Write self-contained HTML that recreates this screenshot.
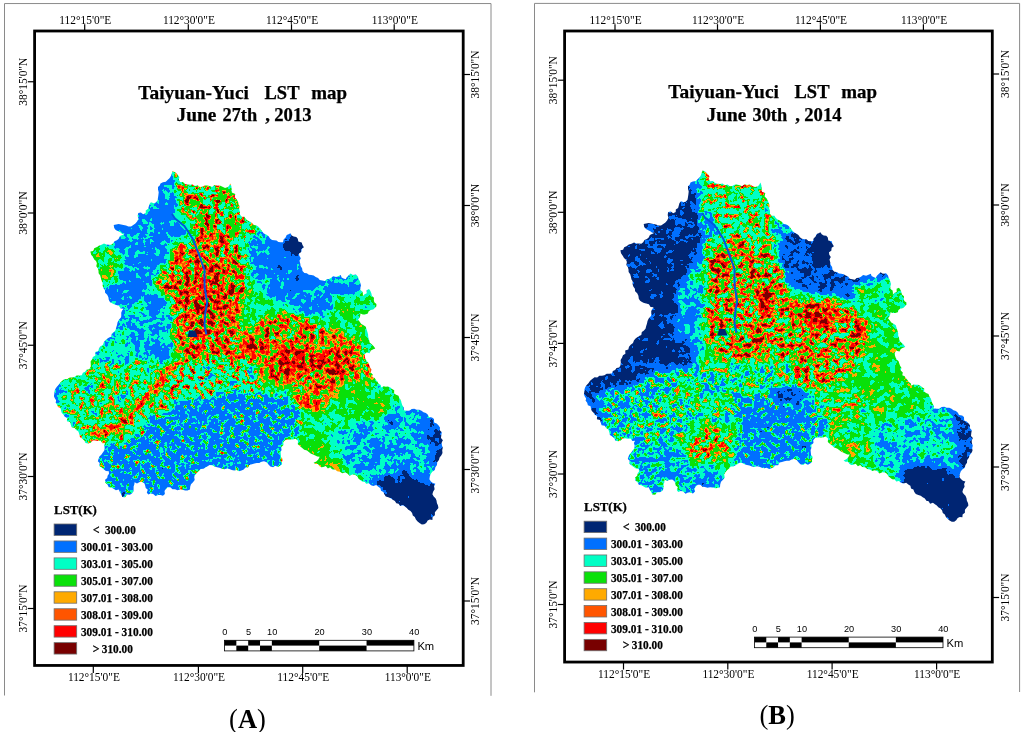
<!DOCTYPE html>
<html><head><meta charset="utf-8"><title>Taiyuan-Yuci LST map</title>
<style>html,body{margin:0;padding:0;background:#fff}svg{display:block}</style></head>
<body>
<svg width="1024" height="732" viewBox="0 0 1024 732">
<defs>
<clipPath id="sil"><polygon points="172.7,171.1 175.5,172.5 177.7,174.7 179.4,176.9 178.9,179.8 180.1,182.1 182.9,181.9 185.0,183.9 187.5,184.6 190.0,184.7 192.6,184.4 194.9,186.1 197.6,185.3 199.8,187.0 202.2,186.7 204.6,185.5 207.1,185.4 209.6,186.1 212.1,187.0 214.5,185.0 217.0,185.8 219.8,185.4 222.5,186.7 225.1,187.9 228.0,187.0 229.4,185.3 230.5,183.4 231.4,186.4 231.7,189.5 231.8,192.5 235.3,193.9 234.6,197.3 236.7,199.3 237.8,201.6 238.8,204.0 239.5,206.5 239.1,209.2 240.0,211.8 240.0,214.6 241.5,216.7 244.4,216.7 245.8,218.9 247.6,220.4 249.8,221.5 252.1,222.9 253.8,224.9 256.7,225.5 258.7,227.1 260.5,229.1 262.1,231.3 263.8,233.4 266.2,234.6 268.4,236.1 269.9,238.3 272.0,239.9 274.2,240.3 276.5,240.4 278.4,242.1 280.7,242.3 283.0,242.3 283.6,239.6 285.6,237.5 286.7,235.0 288.6,234.2 290.4,233.3 291.7,235.4 293.7,236.5 296.3,236.9 297.8,238.7 298.3,241.6 301.7,242.4 302.5,245.0 303.9,247.3 301.7,248.9 301.3,251.9 299.0,253.4 299.3,255.8 300.8,258.2 299.5,260.8 300.2,263.2 300.6,265.9 302.1,268.2 302.5,271.0 304.4,273.1 306.8,273.2 308.9,274.8 311.3,275.1 313.7,275.5 315.7,276.9 318.1,277.9 319.7,280.0 322.3,280.5 324.8,281.0 326.6,279.2 328.9,279.0 331.0,278.0 333.1,276.2 336.1,277.0 338.5,276.1 340.8,275.0 341.6,277.4 343.5,278.4 345.7,279.2 346.9,277.0 348.7,275.3 350.6,273.6 352.9,275.1 356.0,274.6 358.0,276.8 358.6,279.0 359.8,281.0 360.4,283.2 361.0,285.4 360.4,287.8 360.4,290.1 362.6,291.8 362.9,294.1 362.9,296.4 364.2,294.4 366.7,293.3 366.6,290.2 369.0,289.0 370.4,291.1 371.4,293.4 371.9,296.0 374.0,297.7 373.8,300.1 374.3,302.3 376.4,304.0 376.4,306.3 374.8,307.9 373.2,309.5 370.6,309.9 368.7,311.2 367.8,313.6 365.3,314.5 362.9,314.4 360.4,313.6 360.2,315.9 359.4,318.0 358.0,319.8 359.7,321.7 361.3,323.9 363.6,325.3 365.8,326.8 366.6,329.6 367.4,332.0 368.1,334.4 368.2,337.0 369.0,339.4 369.6,342.4 371.7,344.3 373.7,346.3 375.3,348.6 373.0,349.5 370.8,350.6 369.5,353.2 366.3,352.5 364.7,354.6 364.9,357.0 365.6,359.2 366.7,361.2 368.6,362.9 369.2,365.1 370.1,367.4 371.4,369.6 370.7,372.4 372.8,374.4 372.3,377.1 374.7,378.1 375.9,380.1 377.5,381.8 378.6,383.8 380.7,385.1 381.3,387.6 383.6,386.3 385.8,386.7 388.1,386.6 390.3,387.6 392.1,389.1 394.2,390.3 394.1,393.5 396.1,394.8 398.5,395.8 399.3,398.1 400.8,400.3 401.5,402.8 402.3,405.2 403.8,407.4 403.8,410.2 406.6,410.7 409.2,410.7 411.7,409.0 414.3,408.7 416.6,409.7 419.3,409.7 421.5,410.8 423.5,412.3 425.9,413.1 427.9,414.7 429.0,417.1 432.0,417.6 434.0,419.1 434.1,422.5 436.6,423.5 438.4,425.2 440.0,427.4 439.8,430.2 441.8,432.3 441.3,435.2 441.0,438.1 442.9,440.2 441.7,442.6 441.9,445.2 442.8,447.8 442.2,450.3 442.5,452.9 441.4,455.3 439.6,457.4 438.9,460.1 437.2,462.2 437.0,465.1 435.4,467.3 434.8,470.0 432.3,471.7 430.7,473.9 429.8,476.5 429.4,479.3 430.9,481.4 432.9,483.0 435.4,483.8 434.1,486.3 434.6,489.2 433.1,491.7 432.4,494.3 433.7,496.4 435.5,498.3 436.5,500.6 436.9,503.1 438.0,505.4 438.4,507.9 436.8,510.1 434.9,512.2 434.9,515.2 432.6,517.0 432.4,519.9 429.8,519.6 427.7,520.6 426.2,522.9 424.2,524.2 421.8,524.4 419.5,523.1 417.6,521.4 415.9,519.5 414.8,517.0 412.8,515.4 412.1,512.9 410.5,511.1 408.3,509.8 406.8,507.9 404.9,506.6 402.9,505.3 400.1,506.1 398.6,503.8 396.3,503.3 394.9,500.9 392.7,499.7 390.7,498.3 388.3,497.3 385.8,496.5 384.3,494.3 383.4,492.0 381.0,490.8 380.4,488.2 378.3,486.8 376.2,485.0 373.4,485.9 371.0,485.2 368.9,483.3 366.2,483.8 364.8,481.9 362.1,481.5 360.2,480.0 358.4,478.5 357.2,476.3 354.9,474.8 352.4,474.5 349.5,475.7 347.4,473.5 344.9,472.6 342.2,473.3 340.0,471.7 337.2,471.2 335.1,469.6 332.2,469.4 330.2,467.3 327.9,468.6 325.7,466.1 323.4,466.9 321.2,467.3 319.3,466.1 318.0,464.1 315.4,464.1 313.6,462.8 316.3,461.5 318.3,459.4 319.7,456.8 317.3,456.6 315.2,455.6 313.1,454.6 311.0,453.8 309.1,452.3 307.0,450.6 304.2,449.8 302.2,447.9 300.1,446.2 297.8,444.2 298.0,440.7 295.6,438.7 293.0,439.5 290.4,439.6 287.7,439.6 285.1,440.2 283.2,442.3 283.5,445.1 281.4,447.1 281.5,449.9 280.6,452.3 280.8,454.7 281.1,457.1 282.7,459.3 282.0,461.9 282.1,464.3 280.1,465.8 278.0,467.0 275.1,465.8 273.1,467.3 270.4,466.5 268.5,464.4 266.6,462.3 264.0,461.3 261.6,461.8 259.3,462.9 256.8,463.1 254.4,463.6 252.0,464.3 249.5,464.8 248.2,467.5 245.5,467.6 243.7,469.5 241.5,470.6 239.1,471.2 236.7,470.1 234.2,470.5 231.8,470.0 229.4,469.1 227.0,468.4 224.3,469.2 221.9,468.7 219.5,467.7 217.0,467.2 214.5,466.4 212.2,465.3 209.6,465.0 207.6,466.3 205.5,467.4 203.5,468.7 200.8,468.9 199.1,470.7 197.3,472.4 195.4,474.5 194.2,476.9 194.7,480.0 193.0,482.2 191.0,484.2 190.2,486.8 190.0,489.6 187.5,490.5 185.1,490.6 182.6,489.8 180.1,489.6 177.4,490.2 175.1,489.3 172.5,489.2 170.3,487.2 167.8,487.2 165.9,489.0 164.5,491.0 164.9,494.1 162.9,495.8 160.5,495.0 158.0,495.0 155.5,496.1 153.2,493.9 150.8,493.5 148.2,494.5 146.8,492.5 147.8,489.7 145.7,488.0 145.2,485.7 144.5,483.5 142.2,481.9 139.7,482.0 137.0,483.4 134.6,482.2 134.3,484.5 133.6,486.6 133.6,488.9 133.5,491.2 132.2,493.3 129.9,494.7 127.0,494.6 125.2,497.2 122.3,497.0 121.2,494.5 119.8,492.1 118.7,489.6 115.9,490.2 113.6,488.8 111.4,487.5 108.8,487.2 107.6,484.7 105.3,482.8 105.1,479.8 107.2,478.1 107.6,475.8 109.0,473.8 108.8,471.2 105.9,470.9 103.7,469.3 101.5,467.5 99.2,466.0 99.7,463.0 97.8,461.3 98.5,458.9 99.4,456.5 101.3,454.7 102.7,452.7 104.3,450.5 104.7,448.0 103.9,445.2 105.1,442.9 102.4,443.2 100.5,440.6 97.8,440.9 95.3,440.5 92.7,440.6 90.7,442.7 88.2,443.4 85.5,442.9 84.3,440.5 82.2,438.7 79.9,437.1 79.3,434.3 78.4,431.6 76.1,430.1 74.7,427.9 71.6,427.2 70.7,424.5 70.0,422.0 66.9,421.2 67.1,418.0 64.8,416.7 63.4,414.6 61.8,412.9 61.0,410.6 60.6,408.1 57.9,407.1 57.2,404.8 55.7,402.8 56.1,400.3 54.8,398.3 53.9,396.2 54.3,393.7 54.5,391.2 55.3,388.9 56.7,386.9 58.4,385.1 60.1,382.7 62.2,380.7 64.6,379.0 67.2,379.2 69.4,377.5 72.0,377.5 74.4,377.0 76.7,375.6 79.2,375.5 81.8,375.3 82.9,372.8 85.1,371.7 86.5,369.8 89.2,369.2 90.5,366.9 90.8,364.3 90.6,361.6 92.1,359.3 92.9,356.9 95.4,355.5 95.2,352.1 98.3,351.1 99.0,348.3 100.7,346.3 103.0,344.7 103.9,342.1 105.3,340.3 107.2,338.8 109.1,337.5 111.3,336.5 111.8,333.6 113.7,332.3 115.5,330.2 116.2,327.6 117.0,325.1 117.5,322.4 118.7,320.0 121.1,317.3 121.3,315.0 121.2,312.7 122.1,310.6 123.6,308.7 120.6,308.5 118.9,305.7 116.2,305.0 114.0,304.3 112.0,303.3 110.1,302.2 108.8,300.1 108.4,297.2 107.2,294.7 105.1,292.7 104.9,290.1 103.3,287.9 102.6,285.5 102.7,282.9 101.4,280.6 100.9,278.0 100.2,275.5 98.6,273.3 98.5,270.7 97.8,268.2 96.3,266.2 96.9,263.3 96.0,261.0 94.0,259.3 92.9,257.1 91.0,254.5 90.4,251.4 93.1,251.0 94.2,248.3 96.5,247.3 98.8,245.7 101.5,244.8 104.0,243.5 106.4,244.5 108.8,244.7 111.3,244.8 113.2,243.3 114.5,241.2 116.9,240.2 118.7,238.7 119.9,236.0 122.4,234.9 124.8,233.7 122.2,233.9 120.3,232.3 118.2,231.3 115.7,229.9 114.2,227.9 113.7,225.1 116.1,224.4 118.6,223.9 121.1,224.4 123.5,225.1 126.0,225.5 128.4,226.5 131.0,226.4 133.3,225.1 135.4,223.6 137.1,221.5 138.5,218.8 137.6,215.7 138.3,212.9 140.8,212.4 143.2,214.2 145.7,212.9 145.8,210.4 148.1,208.8 148.8,206.5 149.4,204.2 150.9,202.2 153.8,203.2 155.9,202.4 157.5,200.6 158.0,197.8 158.4,195.1 158.7,192.3 158.0,189.5 158.0,187.1 159.7,185.5 160.5,183.4 162.9,182.2 165.8,181.7 167.8,179.7 169.7,177.9 171.0,175.8 171.7,173.4"/></clipPath>
<filter id="fA" x="40" y="160" width="420" height="380" filterUnits="userSpaceOnUse" color-interpolation-filters="sRGB">
<feGaussianBlur in="SourceGraphic" stdDeviation="3.5" result="S"/>
<feColorMatrix in="S" type="matrix" values="1 0 0 0 0 1 0 0 0 0 1 0 0 0 0 0 0 0 0 1" result="fR"/>
<feColorMatrix in="S" type="matrix" values="0 1 0 0 0 0 1 0 0 0 0 1 0 0 0 0 0 0 0 1" result="fG"/>
<feColorMatrix in="S" type="matrix" values="0 0 1 0 0 0 0 1 0 0 0 0 1 0 0 0 0 0 0 1" result="fB"/>
<feTurbulence type="fractalNoise" baseFrequency="0.2" numOctaves="2" seed="3" result="n1"/>
<feColorMatrix in="n1" type="matrix" values="1 0 0 0 0 1 0 0 0 0 1 0 0 0 0 0 0 0 0 1" result="g1"/>
<feComposite in="g1" in2="fB" operator="arithmetic" k1="0" k2="2.6" k3="2" k4="-1.8" result="ng"/>
<feComposite in="fG" in2="ng" operator="arithmetic" k1="1" k2="0" k3="0" k4="0" result="t"/>
<feComposite in="fR" in2="t" operator="arithmetic" k1="0" k2="1" k3="1" k4="0" result="m0"/>
<feTurbulence type="fractalNoise" baseFrequency="0.07" numOctaves="2" seed="8" result="n2"/>
<feColorMatrix in="n2" type="matrix" values="0 1 0 0 0 0 1 0 0 0 0 1 0 0 0 0 0 0 0 1" result="g2"/>
<feComposite in="m0" in2="g2" operator="arithmetic" k1="0" k2="1" k3="0.32" k4="-0.16" result="m"/>
<feComponentTransfer in="m">
<feFuncR type="discrete" tableValues="0 0 0 0 0 0 0 0 0 0 0 0 0 0 0.0392 0.0392 0.0392 0.0392 1 1 1 1 1 1 1 1 0.471 0.471 0.471 0.471 0.471 0.471"/>
<feFuncG type="discrete" tableValues="0.149 0.149 0.149 0.149 0.439 0.439 0.439 0.439 0.439 0.439 1 1 1 1 0.882 0.882 0.882 0.882 0.667 0.667 0.333 0.333 0 0 0 0 0 0 0 0 0 0"/>
<feFuncB type="discrete" tableValues="0.451 0.451 0.451 0.451 1 1 1 1 1 1 0.773 0.773 0.773 0.773 0.0392 0.0392 0.0392 0.0392 0 0 0 0 0 0 0 0 0 0 0 0 0 0"/>
</feComponentTransfer>
</filter>
<filter id="fB" x="40" y="160" width="420" height="380" filterUnits="userSpaceOnUse" color-interpolation-filters="sRGB">
<feGaussianBlur in="SourceGraphic" stdDeviation="3.5" result="S"/>
<feColorMatrix in="S" type="matrix" values="1 0 0 0 0 1 0 0 0 0 1 0 0 0 0 0 0 0 0 1" result="fR"/>
<feColorMatrix in="S" type="matrix" values="0 1 0 0 0 0 1 0 0 0 0 1 0 0 0 0 0 0 0 1" result="fG"/>
<feColorMatrix in="S" type="matrix" values="0 0 1 0 0 0 0 1 0 0 0 0 1 0 0 0 0 0 0 1" result="fB"/>
<feTurbulence type="fractalNoise" baseFrequency="0.2" numOctaves="2" seed="11" result="n1"/>
<feColorMatrix in="n1" type="matrix" values="1 0 0 0 0 1 0 0 0 0 1 0 0 0 0 0 0 0 0 1" result="g1"/>
<feComposite in="g1" in2="fB" operator="arithmetic" k1="0" k2="2.6" k3="2" k4="-1.8" result="ng"/>
<feComposite in="fG" in2="ng" operator="arithmetic" k1="1" k2="0" k3="0" k4="0" result="t"/>
<feComposite in="fR" in2="t" operator="arithmetic" k1="0" k2="1" k3="1" k4="0" result="m0"/>
<feTurbulence type="fractalNoise" baseFrequency="0.07" numOctaves="2" seed="16" result="n2"/>
<feColorMatrix in="n2" type="matrix" values="0 1 0 0 0 0 1 0 0 0 0 1 0 0 0 0 0 0 0 1" result="g2"/>
<feComposite in="m0" in2="g2" operator="arithmetic" k1="0" k2="1" k3="0.32" k4="-0.16" result="m"/>
<feComponentTransfer in="m">
<feFuncR type="discrete" tableValues="0 0 0 0 0 0 0 0 0 0 0 0 0 0 0.0392 0.0392 0.0392 0.0392 1 1 1 1 1 1 1 1 0.471 0.471 0.471 0.471 0.471 0.471"/>
<feFuncG type="discrete" tableValues="0.149 0.149 0.149 0.149 0.439 0.439 0.439 0.439 0.439 0.439 1 1 1 1 0.882 0.882 0.882 0.882 0.667 0.667 0.333 0.333 0 0 0 0 0 0 0 0 0 0"/>
<feFuncB type="discrete" tableValues="0.451 0.451 0.451 0.451 1 1 1 1 1 1 0.773 0.773 0.773 0.773 0.0392 0.0392 0.0392 0.0392 0 0 0 0 0 0 0 0 0 0 0 0 0 0"/>
</feComponentTransfer>
</filter>
</defs>
<rect width="1024" height="732" fill="#fff"/>
<path d="M4.5 695.5V3.55H491V695.8" fill="none" stroke="#8a8a8a" stroke-width="1"/>
<g transform="translate(0 0)"><g clip-path="url(#sil)"><g filter="url(#fA)"><rect x="40" y="160" width="420" height="380" fill="#5e2480"/><polygon points="150.0,165.0 171.0,172.0 175.0,195.0 176.0,212.0 184.0,230.0 188.0,243.0 182.0,252.0 170.0,263.0 156.0,276.0 150.0,290.0 140.0,300.0 125.0,312.0 105.0,315.0 85.0,295.0 80.0,268.0 70.0,240.0 100.0,215.0 130.0,200.0 140.0,180.0" fill="#362b5e"/>
<ellipse cx="140" cy="250" rx="18" ry="20" fill="#382b6b"/>
<polygon points="75.0,240.0 112.0,243.0 122.0,262.0 118.0,282.0 95.0,290.0 80.0,270.0" fill="#613380"/>
<ellipse cx="176" cy="225" rx="5" ry="22" fill="#331a59" transform="rotate(-15 176 225)"/>
<ellipse cx="161" cy="186" rx="5" ry="8" fill="#1a1f66"/>
<polygon points="123.0,312.0 150.0,292.0 172.0,300.0 176.0,330.0 165.0,362.0 130.0,366.0 85.0,360.0 100.0,330.0" fill="#403373"/>
<ellipse cx="163" cy="300" rx="13" ry="9" fill="#360f4c"/>
<ellipse cx="164" cy="338" rx="8" ry="26" fill="#362466"/>
<polygon points="172.0,160.0 200.0,175.0 235.0,172.0 245.0,205.0 265.0,225.0 258.0,242.0 242.0,258.0 230.0,243.0 222.0,229.0 220.0,218.0 213.0,205.0 200.0,199.0 194.0,188.0 180.0,192.0" fill="#739947"/>
<polygon points="178.0,190.0 194.0,187.0 200.0,199.0 213.0,205.0 221.0,218.0 223.0,230.0 197.0,238.0 194.0,224.0 188.0,214.0 180.0,205.0" fill="#73994a"/>
<ellipse cx="189" cy="197" rx="6" ry="5" fill="#7a8073"/>
<ellipse cx="212" cy="223" rx="5" ry="5" fill="#7a8073"/>
<polygon points="197.8,237.4 222.7,229.7 230.3,243.1 239.9,256.5 241.8,269.9 249.4,287.0 242.0,302.4 240.0,320.0 248.0,340.0 240.0,357.0 215.0,362.0 190.0,358.0 172.0,345.0 173.0,320.0 171.0,302.4 155.7,287.0 153.8,275.6 169.1,264.1 180.6,252.7 188.2,241.2" fill="#706b7a"/>
<ellipse cx="177" cy="250" rx="10" ry="10" fill="#734c80"/>
<ellipse cx="205" cy="300" rx="28" ry="38" fill="#756b87"/>
<polygon points="224.0,218.0 240.0,212.0 258.0,240.0 262.0,262.0 255.0,285.0 245.0,270.0 240.0,255.0 230.0,243.0" fill="#668c47"/>
<polygon points="246.0,243.0 262.0,228.0 275.0,232.0 285.0,225.0 300.0,225.0 312.0,248.0 308.0,265.0 322.0,272.0 345.0,268.0 362.0,268.0 366.0,292.0 345.0,305.0 325.0,315.0 300.0,312.0 280.0,300.0 262.0,292.0 250.0,272.0" fill="#362b5e"/>
<ellipse cx="294" cy="243" rx="11" ry="13" fill="#001433"/>
<ellipse cx="303" cy="280" rx="9" ry="5" fill="#142680" transform="rotate(30 303 280)"/>
<polygon points="335.0,297.0 362.0,293.0 390.0,300.0 380.0,345.0 345.0,335.0 328.0,314.0" fill="#61268c"/>
<ellipse cx="352" cy="283" rx="14" ry="8" fill="#362466"/>
<ellipse cx="325" cy="308" rx="12" ry="5" fill="#361f66" transform="rotate(-30 325 308)"/>
<polygon points="257.0,320.0 285.0,313.0 310.0,320.0 335.0,332.0 366.0,345.0 378.0,380.0 350.0,392.0 310.0,396.0 285.0,389.0 262.0,372.0 252.0,347.0" fill="#736673"/>
<ellipse cx="294" cy="364" rx="20" ry="15" fill="#805c94"/>
<ellipse cx="336" cy="362" rx="20" ry="13" fill="#805c8f"/>
<ellipse cx="312" cy="400" rx="16" ry="11" fill="#7a578c"/>
<ellipse cx="252" cy="348" rx="14" ry="12" fill="#78618f"/>
<polygon points="175.0,360.0 250.0,358.0 262.0,392.0 230.0,395.0 160.0,420.0 150.0,395.0" fill="#5c994c"/>
<polygon points="40.0,375.0 95.0,360.0 165.0,365.0 172.0,400.0 150.0,440.0 110.0,450.0 85.0,458.0 60.0,440.0 40.0,410.0" fill="#5c6b54"/>
<ellipse cx="57" cy="392" rx="9" ry="15" fill="#382966"/>
<polyline points="182.0,361.0 150.0,393.0 122.0,422.0 90.0,438.0" fill="none" stroke="#9e40a6" stroke-width="5" stroke-linecap="round" stroke-linejoin="round"/>
<polyline points="128.0,378.0 105.0,408.0" fill="none" stroke="#8c4099" stroke-width="3" stroke-linecap="round" stroke-linejoin="round"/>
<polyline points="112.0,372.0 92.0,400.0" fill="none" stroke="#8c4099" stroke-width="3" stroke-linecap="round" stroke-linejoin="round"/>
<polygon points="150.0,420.0 205.0,396.0 240.0,392.0 292.0,396.0 302.0,420.0 290.0,445.0 280.0,478.0 240.0,488.0 200.0,488.0 195.0,508.0 100.0,508.0 88.0,465.0 100.0,447.0 130.0,443.0" fill="#388c40"/>
<polygon points="330.0,385.0 372.0,375.0 405.0,408.0 380.0,420.0 345.0,418.0" fill="#66248c"/>
<polygon points="283.0,440.0 300.0,436.0 320.0,450.0 345.0,470.0 380.0,487.0 375.0,500.0 330.0,482.0 283.0,480.0" fill="#6624a6"/>
<polygon points="345.0,425.0 380.0,420.0 405.0,400.0 450.0,415.0 455.0,455.0 445.0,495.0 450.0,510.0 440.0,535.0 410.0,530.0 385.0,505.0 360.0,482.0 338.0,455.0" fill="#382b80"/>
<polygon points="376.0,482.0 400.0,474.0 428.0,482.0 452.0,505.0 442.0,535.0 415.0,535.0 392.0,512.0" fill="#051f47"/>
<polygon points="427.0,416.0 456.0,422.0 456.0,476.0 436.0,487.0 429.0,450.0" fill="#0d2973"/></g><polyline points="172,214 175,218.5 184.4,226 193,239.3 199.7,256.5 204.5,270 204.6,287 207.2,303 205.4,312 204.5,325 206.4,334.5" fill="none" stroke="#0058dc" stroke-width="2" stroke-linejoin="round"/><path d="M189 330.5h6l2.5 6.5h-10z" fill="#002673"/></g></g>
<rect x="34.6" y="31" width="428.59999999999997" height="634.45" fill="none" stroke="#000" stroke-width="2.8"/>
<path d="M84.7 31V24.2" stroke="#000" stroke-width="1.2"/>
<text x="85.3" y="23.7" font-family="'Liberation Serif',serif" font-size="12" text-anchor="middle" textLength="52" lengthAdjust="spacingAndGlyphs">112°15'0"E</text>
<path d="M188.3 31V24.2" stroke="#000" stroke-width="1.2"/>
<text x="188.9" y="23.7" font-family="'Liberation Serif',serif" font-size="12" text-anchor="middle" textLength="52" lengthAdjust="spacingAndGlyphs">112°30'0"E</text>
<path d="M291.5 31V24.2" stroke="#000" stroke-width="1.2"/>
<text x="292.1" y="23.7" font-family="'Liberation Serif',serif" font-size="12" text-anchor="middle" textLength="52" lengthAdjust="spacingAndGlyphs">112°45'0"E</text>
<path d="M394.2 31V24.2" stroke="#000" stroke-width="1.2"/>
<text x="394.8" y="23.7" font-family="'Liberation Serif',serif" font-size="12" text-anchor="middle" textLength="46.2" lengthAdjust="spacingAndGlyphs">113°0'0"E</text>
<path d="M93.3 665.45V672.95" stroke="#000" stroke-width="1.2"/>
<text x="93.89999999999999" y="680.8" font-family="'Liberation Serif',serif" font-size="12" text-anchor="middle" textLength="52" lengthAdjust="spacingAndGlyphs">112°15'0"E</text>
<path d="M198.4 665.45V672.95" stroke="#000" stroke-width="1.2"/>
<text x="199.0" y="680.8" font-family="'Liberation Serif',serif" font-size="12" text-anchor="middle" textLength="52" lengthAdjust="spacingAndGlyphs">112°30'0"E</text>
<path d="M302.7 665.45V672.95" stroke="#000" stroke-width="1.2"/>
<text x="303.3" y="680.8" font-family="'Liberation Serif',serif" font-size="12" text-anchor="middle" textLength="52" lengthAdjust="spacingAndGlyphs">112°45'0"E</text>
<path d="M407.2 665.45V672.95" stroke="#000" stroke-width="1.2"/>
<text x="407.8" y="680.8" font-family="'Liberation Serif',serif" font-size="12" text-anchor="middle" textLength="46.2" lengthAdjust="spacingAndGlyphs">113°0'0"E</text>
<path d="M34.6 81.75H27.8" stroke="#000" stroke-width="1.2"/>
<text transform="translate(27 81.75) rotate(-90)" font-family="'Liberation Serif',serif" font-size="12" text-anchor="middle" textLength="48" lengthAdjust="spacingAndGlyphs">38°15'0"N</text>
<path d="M34.6 213H27.8" stroke="#000" stroke-width="1.2"/>
<text transform="translate(27 213) rotate(-90)" font-family="'Liberation Serif',serif" font-size="12" text-anchor="middle" textLength="43.5" lengthAdjust="spacingAndGlyphs">38°0'0"N</text>
<path d="M34.6 345.25H27.8" stroke="#000" stroke-width="1.2"/>
<text transform="translate(27 345.25) rotate(-90)" font-family="'Liberation Serif',serif" font-size="12" text-anchor="middle" textLength="48" lengthAdjust="spacingAndGlyphs">37°45'0"N</text>
<path d="M34.6 476.5H27.8" stroke="#000" stroke-width="1.2"/>
<text transform="translate(27 476.5) rotate(-90)" font-family="'Liberation Serif',serif" font-size="12" text-anchor="middle" textLength="48" lengthAdjust="spacingAndGlyphs">37°30'0"N</text>
<path d="M34.6 608.5H27.8" stroke="#000" stroke-width="1.2"/>
<text transform="translate(27 608.5) rotate(-90)" font-family="'Liberation Serif',serif" font-size="12" text-anchor="middle" textLength="48" lengthAdjust="spacingAndGlyphs">37°15'0"N</text>
<path d="M463.2 74.5H470.0" stroke="#000" stroke-width="1.2"/>
<text transform="translate(479 74.5) rotate(-90)" font-family="'Liberation Serif',serif" font-size="12" text-anchor="middle" textLength="48" lengthAdjust="spacingAndGlyphs">38°15'0"N</text>
<path d="M463.2 205.5H470.0" stroke="#000" stroke-width="1.2"/>
<text transform="translate(479 205.5) rotate(-90)" font-family="'Liberation Serif',serif" font-size="12" text-anchor="middle" textLength="43.5" lengthAdjust="spacingAndGlyphs">38°0'0"N</text>
<path d="M463.2 337.5H470.0" stroke="#000" stroke-width="1.2"/>
<text transform="translate(479 337.5) rotate(-90)" font-family="'Liberation Serif',serif" font-size="12" text-anchor="middle" textLength="48" lengthAdjust="spacingAndGlyphs">37°45'0"N</text>
<path d="M463.2 469.5H470.0" stroke="#000" stroke-width="1.2"/>
<text transform="translate(479 469.5) rotate(-90)" font-family="'Liberation Serif',serif" font-size="12" text-anchor="middle" textLength="48" lengthAdjust="spacingAndGlyphs">37°30'0"N</text>
<path d="M463.2 601H470.0" stroke="#000" stroke-width="1.2"/>
<text transform="translate(479 601) rotate(-90)" font-family="'Liberation Serif',serif" font-size="12" text-anchor="middle" textLength="48" lengthAdjust="spacingAndGlyphs">37°15'0"N</text>
<text x="138.3" y="98.6" font-family="'Liberation Serif',serif" font-size="18.8" text-anchor="start" font-weight="bold" stroke="#000" stroke-width="0.25" textLength="110.6" lengthAdjust="spacingAndGlyphs">Taiyuan-Yuci</text>
<text x="264.5" y="98.6" font-family="'Liberation Serif',serif" font-size="18.8" text-anchor="start" font-weight="bold" stroke="#000" stroke-width="0.25" textLength="35" lengthAdjust="spacingAndGlyphs">LST</text>
<text x="311.2" y="98.6" font-family="'Liberation Serif',serif" font-size="18.8" text-anchor="start" font-weight="bold" stroke="#000" stroke-width="0.25" textLength="35.8" lengthAdjust="spacingAndGlyphs">map</text>
<text x="176.6" y="120.8" font-family="'Liberation Serif',serif" font-size="18.8" text-anchor="start" font-weight="bold" stroke="#000" stroke-width="0.25" textLength="39.8" lengthAdjust="spacingAndGlyphs">June</text>
<text x="222.5" y="120.8" font-family="'Liberation Serif',serif" font-size="18.8" text-anchor="start" font-weight="bold" stroke="#000" stroke-width="0.25" textLength="34.7" lengthAdjust="spacingAndGlyphs">27th</text>
<text x="265.3" y="120.8" font-family="'Liberation Serif',serif" font-size="18.8" text-anchor="start" font-weight="bold" stroke="#000" stroke-width="0.25">,</text>
<text x="274.3" y="120.8" font-family="'Liberation Serif',serif" font-size="18.8" text-anchor="start" font-weight="bold" stroke="#000" stroke-width="0.25" textLength="37.3" lengthAdjust="spacingAndGlyphs">2013</text>
<text x="54.1" y="513.5" font-family="'Liberation Serif',serif" font-size="13.2" text-anchor="start" font-weight="bold" stroke="#000" stroke-width="0.25" textLength="42.8" lengthAdjust="spacingAndGlyphs">LST(K)</text>
<rect x="54.1" y="524.00" width="22.6" height="11.4" fill="#002673" stroke="#6e6e6e" stroke-width="0.8"/>
<text x="92.7" y="534.10" font-family="'Liberation Serif',serif" font-size="12" text-anchor="start" font-weight="bold" stroke="#000" stroke-width="0.25">&lt;</text>
<text x="105" y="534.10" font-family="'Liberation Serif',serif" font-size="12.2" text-anchor="start" font-weight="bold" stroke="#000" stroke-width="0.25" textLength="30.8" lengthAdjust="spacingAndGlyphs">300.00</text>
<rect x="54.1" y="540.95" width="22.6" height="11.4" fill="#0070FF" stroke="#6e6e6e" stroke-width="0.8"/>
<text x="80.9" y="551.05" font-family="'Liberation Serif',serif" font-size="12.2" text-anchor="start" font-weight="bold" stroke="#000" stroke-width="0.25" textLength="72" lengthAdjust="spacingAndGlyphs">300.01 - 303.00</text>
<rect x="54.1" y="557.90" width="22.6" height="11.4" fill="#00FFC5" stroke="#6e6e6e" stroke-width="0.8"/>
<text x="80.9" y="568.00" font-family="'Liberation Serif',serif" font-size="12.2" text-anchor="start" font-weight="bold" stroke="#000" stroke-width="0.25" textLength="72" lengthAdjust="spacingAndGlyphs">303.01 - 305.00</text>
<rect x="54.1" y="574.85" width="22.6" height="11.4" fill="#0AE10A" stroke="#6e6e6e" stroke-width="0.8"/>
<text x="80.9" y="584.95" font-family="'Liberation Serif',serif" font-size="12.2" text-anchor="start" font-weight="bold" stroke="#000" stroke-width="0.25" textLength="72" lengthAdjust="spacingAndGlyphs">305.01 - 307.00</text>
<rect x="54.1" y="591.80" width="22.6" height="11.4" fill="#FFAA00" stroke="#6e6e6e" stroke-width="0.8"/>
<text x="80.9" y="601.90" font-family="'Liberation Serif',serif" font-size="12.2" text-anchor="start" font-weight="bold" stroke="#000" stroke-width="0.25" textLength="72" lengthAdjust="spacingAndGlyphs">307.01 - 308.00</text>
<rect x="54.1" y="608.75" width="22.6" height="11.4" fill="#FF5500" stroke="#6e6e6e" stroke-width="0.8"/>
<text x="80.9" y="618.85" font-family="'Liberation Serif',serif" font-size="12.2" text-anchor="start" font-weight="bold" stroke="#000" stroke-width="0.25" textLength="72" lengthAdjust="spacingAndGlyphs">308.01 - 309.00</text>
<rect x="54.1" y="625.70" width="22.6" height="11.4" fill="#FF0000" stroke="#6e6e6e" stroke-width="0.8"/>
<text x="80.9" y="635.80" font-family="'Liberation Serif',serif" font-size="12.2" text-anchor="start" font-weight="bold" stroke="#000" stroke-width="0.25" textLength="72" lengthAdjust="spacingAndGlyphs">309.01 - 310.00</text>
<rect x="54.1" y="642.65" width="22.6" height="11.4" fill="#780000" stroke="#6e6e6e" stroke-width="0.8"/>
<text x="92.7" y="652.75" font-family="'Liberation Serif',serif" font-size="12" text-anchor="start" font-weight="bold" stroke="#000" stroke-width="0.25">&gt;</text>
<text x="101.8" y="652.75" font-family="'Liberation Serif',serif" font-size="12.2" text-anchor="start" font-weight="bold" stroke="#000" stroke-width="0.25" textLength="31" lengthAdjust="spacingAndGlyphs">310.00</text>
<rect x="224.5" y="640.3" width="189.4" height="10.6" fill="#fff" stroke="#000" stroke-width="0.8"/>
<rect x="224.50" y="640.30" width="11.84" height="5.3" fill="#000"/>
<rect x="236.34" y="645.60" width="11.84" height="5.3" fill="#000"/>
<rect x="248.18" y="640.30" width="11.84" height="5.3" fill="#000"/>
<rect x="260.01" y="645.60" width="11.84" height="5.3" fill="#000"/>
<rect x="271.85" y="640.30" width="47.35" height="5.3" fill="#000"/>
<rect x="319.20" y="645.60" width="47.35" height="5.3" fill="#000"/>
<rect x="366.55" y="640.30" width="47.35" height="5.3" fill="#000"/>
<text x="224.8" y="635.0" font-family="'Liberation Sans',sans-serif" font-size="9.2" text-anchor="middle">0</text>
<text x="248.5" y="635.0" font-family="'Liberation Sans',sans-serif" font-size="9.2" text-anchor="middle">5</text>
<text x="272.2" y="635.0" font-family="'Liberation Sans',sans-serif" font-size="9.2" text-anchor="middle">10</text>
<text x="319.5" y="635.0" font-family="'Liberation Sans',sans-serif" font-size="9.2" text-anchor="middle">20</text>
<text x="366.9" y="635.0" font-family="'Liberation Sans',sans-serif" font-size="9.2" text-anchor="middle">30</text>
<text x="414.2" y="635.0" font-family="'Liberation Sans',sans-serif" font-size="9.2" text-anchor="middle">40</text>
<text x="417.4" y="650.2" font-family="'Liberation Sans',sans-serif" font-size="11.2" text-anchor="start">Km</text>
<text x="247.5" y="727.6" font-family="'Liberation Serif',serif" font-size="26.5" text-anchor="middle">(<tspan font-weight="bold">A</tspan>)</text>
<path d="M534.5 692.3V3.4H1019.6V692" fill="none" stroke="#8a8a8a" stroke-width="1"/>
<g transform="translate(530 0.161) scale(1 0.9948)"><g clip-path="url(#sil)"><g filter="url(#fB)"><rect x="40" y="160" width="420" height="380" fill="#5c2480"/><polygon points="150.0,165.0 166.0,172.0 172.0,195.0 174.0,212.0 178.0,232.0 176.0,252.0 166.0,266.0 154.0,280.0 146.0,296.0 150.0,312.0 144.0,340.0 120.0,345.0 85.0,320.0 80.0,268.0 70.0,240.0 100.0,215.0 130.0,200.0 140.0,180.0" fill="#0a2654"/>
<ellipse cx="136" cy="236" rx="12" ry="12" fill="#0f2980"/>
<ellipse cx="166" cy="186" rx="5" ry="9" fill="#361f66"/>
<ellipse cx="104" cy="232" rx="9" ry="5" fill="#362480"/>
<polygon points="154.0,282.0 166.0,268.0 176.0,258.0 178.0,300.0 178.0,340.0 152.0,345.0 146.0,340.0 152.0,312.0 148.0,296.0" fill="#382e80"/>
<polygon points="122.0,318.0 140.0,340.0 166.0,345.0 166.0,368.0 125.0,370.0 100.0,388.0 70.0,395.0 40.0,400.0 40.0,375.0 85.0,355.0 100.0,330.0" fill="#0a2654"/>
<polygon points="170.0,160.0 200.0,175.0 235.0,172.0 245.0,205.0 265.0,225.0 258.0,242.0 240.0,250.0 215.0,250.0 190.0,250.0 172.0,252.0 172.0,232.0 168.0,212.0 169.0,192.0" fill="#638047"/>
<ellipse cx="209" cy="248" rx="8" ry="11" fill="#78618c"/>
<ellipse cx="180" cy="222" rx="4" ry="20" fill="#361a66" transform="rotate(-15 180 222)"/>
<polygon points="172.0,255.0 200.0,250.0 236.0,250.0 250.0,262.0 256.0,290.0 262.0,320.0 256.0,345.0 240.0,360.0 212.0,364.0 188.0,358.0 174.0,340.0 176.0,300.0" fill="#6b756b"/>
<ellipse cx="190" cy="270" rx="10" ry="11" fill="#756b8c"/>
<ellipse cx="236" cy="300" rx="10" ry="16" fill="#756b8c"/>
<ellipse cx="228" cy="342" rx="9" ry="12" fill="#756b8c"/>
<polygon points="238.0,212.0 262.0,230.0 264.0,262.0 260.0,285.0 252.0,262.0 244.0,240.0" fill="#452e80"/>
<polygon points="250.0,243.0 262.0,228.0 275.0,232.0 285.0,225.0 300.0,225.0 312.0,248.0 308.0,265.0 322.0,272.0 345.0,268.0 362.0,268.0 366.0,292.0 345.0,300.0 325.0,304.0 305.0,296.0 280.0,296.0 262.0,290.0 252.0,270.0" fill="#132b73"/>
<ellipse cx="293" cy="250" rx="11" ry="18" fill="#050f4c"/>
<polygon points="325.0,285.0 360.0,280.0 390.0,300.0 380.0,345.0 345.0,338.0 322.0,312.0" fill="#5c2b80"/>
<polygon points="262.0,300.0 300.0,298.0 322.0,308.0 340.0,328.0 342.0,352.0 322.0,372.0 300.0,390.0 270.0,392.0 250.0,380.0 246.0,350.0 256.0,320.0" fill="#6b706b"/>
<ellipse cx="288" cy="318" rx="17" ry="11" fill="#855ca3"/>
<ellipse cx="330" cy="333" rx="7" ry="8" fill="#8c5ca8"/>
<ellipse cx="264" cy="374" rx="12" ry="12" fill="#756685"/>
<polygon points="338.0,338.0 372.0,345.0 385.0,385.0 400.0,410.0 375.0,420.0 345.0,418.0 325.0,395.0 335.0,365.0" fill="#692180"/>
<polygon points="40.0,400.0 70.0,395.0 100.0,388.0 125.0,370.0 165.0,368.0 172.0,400.0 150.0,440.0 110.0,450.0 85.0,458.0 60.0,440.0" fill="#406b61"/>
<polygon points="40.0,375.0 62.0,378.0 66.0,400.0 75.0,425.0 60.0,440.0 40.0,420.0" fill="#12296b"/>
<polyline points="182.0,361.0 150.0,393.0 122.0,422.0" fill="none" stroke="#7a4799" stroke-width="4" stroke-linecap="round" stroke-linejoin="round"/>
<polygon points="172.0,364.0 212.0,366.0 262.0,360.0 262.0,392.0 214.0,396.0 205.0,420.0 160.0,425.0 150.0,395.0" fill="#4c576b"/>
<ellipse cx="157" cy="350" rx="8" ry="12" fill="#142466"/>
<ellipse cx="181" cy="446" rx="24" ry="17" fill="#66706b" transform="rotate(-20 181 446)"/>
<polygon points="207.0,398.0 240.0,396.0 285.0,398.0 300.0,420.0 290.0,445.0 280.0,478.0 240.0,488.0 210.0,488.0 205.0,460.0 210.0,425.0" fill="#338045"/>
<ellipse cx="262" cy="398" rx="20" ry="9" fill="#1a2973" transform="rotate(10 262 398)"/>
<polygon points="100.0,447.0 130.0,443.0 152.0,450.0 160.0,470.0 200.0,470.0 200.0,488.0 195.0,508.0 100.0,508.0 88.0,465.0" fill="#38476b"/>
<ellipse cx="172" cy="488" rx="10" ry="6" fill="#142966"/>
<polygon points="285.0,395.0 339.0,395.0 339.0,420.0 300.0,425.0 285.0,419.0" fill="#5e526b"/>
<polygon points="300.0,425.0 339.0,420.0 345.0,465.0 320.0,465.0 300.0,445.0" fill="#69336b"/>
<polygon points="283.0,445.0 300.0,441.0 320.0,455.0 345.0,472.0 372.0,487.0 370.0,500.0 330.0,482.0 283.0,480.0" fill="#612499"/>
<polygon points="345.0,425.0 380.0,420.0 405.0,400.0 450.0,415.0 455.0,455.0 445.0,495.0 450.0,510.0 440.0,535.0 410.0,530.0 385.0,505.0 360.0,482.0 338.0,455.0" fill="#3d3380"/>
<polygon points="368.0,474.0 392.0,466.0 412.0,468.0 432.0,478.0 450.0,500.0 445.0,535.0 415.0,535.0 395.0,517.0 378.0,500.0" fill="#051a4c"/>
<polygon points="422.0,410.0 456.0,416.0 456.0,475.0 438.0,488.0 428.0,460.0 424.0,435.0" fill="#0f296b"/></g><polyline points="172,214 175,218.5 184.4,226 193,239.3 199.7,256.5 204.5,270 204.6,287 207.2,303 205.4,312 204.5,325 206.4,334.5" fill="none" stroke="#0058dc" stroke-width="2" stroke-linejoin="round"/><path d="M189 330.5h6l2.5 6.5h-10z" fill="#002673"/></g></g>
<rect x="564.6" y="31" width="427.69999999999993" height="631.05" fill="none" stroke="#000" stroke-width="2.8"/>
<path d="M615 31V24.2" stroke="#000" stroke-width="1.2"/>
<text x="615.6" y="24.0" font-family="'Liberation Serif',serif" font-size="12" text-anchor="middle" textLength="52" lengthAdjust="spacingAndGlyphs">112°15'0"E</text>
<path d="M717.5 31V24.2" stroke="#000" stroke-width="1.2"/>
<text x="718.1" y="24.0" font-family="'Liberation Serif',serif" font-size="12" text-anchor="middle" textLength="52" lengthAdjust="spacingAndGlyphs">112°30'0"E</text>
<path d="M820.4 31V24.2" stroke="#000" stroke-width="1.2"/>
<text x="821.0" y="24.0" font-family="'Liberation Serif',serif" font-size="12" text-anchor="middle" textLength="52" lengthAdjust="spacingAndGlyphs">112°45'0"E</text>
<path d="M923.4 31V24.2" stroke="#000" stroke-width="1.2"/>
<text x="924.0" y="24.0" font-family="'Liberation Serif',serif" font-size="12" text-anchor="middle" textLength="46.2" lengthAdjust="spacingAndGlyphs">113°0'0"E</text>
<path d="M623.5 662.05V669.55" stroke="#000" stroke-width="1.2"/>
<text x="624.1" y="678.3" font-family="'Liberation Serif',serif" font-size="12" text-anchor="middle" textLength="52" lengthAdjust="spacingAndGlyphs">112°15'0"E</text>
<path d="M727.8 662.05V669.55" stroke="#000" stroke-width="1.2"/>
<text x="728.4" y="678.3" font-family="'Liberation Serif',serif" font-size="12" text-anchor="middle" textLength="52" lengthAdjust="spacingAndGlyphs">112°30'0"E</text>
<path d="M832.1 662.05V669.55" stroke="#000" stroke-width="1.2"/>
<text x="832.7" y="678.3" font-family="'Liberation Serif',serif" font-size="12" text-anchor="middle" textLength="52" lengthAdjust="spacingAndGlyphs">112°45'0"E</text>
<path d="M936.6 662.05V669.55" stroke="#000" stroke-width="1.2"/>
<text x="937.2" y="678.3" font-family="'Liberation Serif',serif" font-size="12" text-anchor="middle" textLength="46.2" lengthAdjust="spacingAndGlyphs">113°0'0"E</text>
<path d="M564.6 80.2H557.8000000000001" stroke="#000" stroke-width="1.2"/>
<text transform="translate(556.5 80.2) rotate(-90)" font-family="'Liberation Serif',serif" font-size="12" text-anchor="middle" textLength="48" lengthAdjust="spacingAndGlyphs">38°15'0"N</text>
<path d="M564.6 212.3H557.8000000000001" stroke="#000" stroke-width="1.2"/>
<text transform="translate(556.5 212.3) rotate(-90)" font-family="'Liberation Serif',serif" font-size="12" text-anchor="middle" textLength="43.5" lengthAdjust="spacingAndGlyphs">38°0'0"N</text>
<path d="M564.6 343.4H557.8000000000001" stroke="#000" stroke-width="1.2"/>
<text transform="translate(556.5 343.4) rotate(-90)" font-family="'Liberation Serif',serif" font-size="12" text-anchor="middle" textLength="48" lengthAdjust="spacingAndGlyphs">37°45'0"N</text>
<path d="M564.6 474H557.8000000000001" stroke="#000" stroke-width="1.2"/>
<text transform="translate(556.5 474) rotate(-90)" font-family="'Liberation Serif',serif" font-size="12" text-anchor="middle" textLength="48" lengthAdjust="spacingAndGlyphs">37°30'0"N</text>
<path d="M564.6 604.5H557.8000000000001" stroke="#000" stroke-width="1.2"/>
<text transform="translate(556.5 604.5) rotate(-90)" font-family="'Liberation Serif',serif" font-size="12" text-anchor="middle" textLength="48" lengthAdjust="spacingAndGlyphs">37°15'0"N</text>
<path d="M992.3 74H999.0999999999999" stroke="#000" stroke-width="1.2"/>
<text transform="translate(1008.5 74) rotate(-90)" font-family="'Liberation Serif',serif" font-size="12" text-anchor="middle" textLength="48" lengthAdjust="spacingAndGlyphs">38°15'0"N</text>
<path d="M992.3 205H999.0999999999999" stroke="#000" stroke-width="1.2"/>
<text transform="translate(1008.5 205) rotate(-90)" font-family="'Liberation Serif',serif" font-size="12" text-anchor="middle" textLength="43.5" lengthAdjust="spacingAndGlyphs">38°0'0"N</text>
<path d="M992.3 336H999.0999999999999" stroke="#000" stroke-width="1.2"/>
<text transform="translate(1008.5 336) rotate(-90)" font-family="'Liberation Serif',serif" font-size="12" text-anchor="middle" textLength="48" lengthAdjust="spacingAndGlyphs">37°45'0"N</text>
<path d="M992.3 467H999.0999999999999" stroke="#000" stroke-width="1.2"/>
<text transform="translate(1008.5 467) rotate(-90)" font-family="'Liberation Serif',serif" font-size="12" text-anchor="middle" textLength="48" lengthAdjust="spacingAndGlyphs">37°30'0"N</text>
<path d="M992.3 597.5H999.0999999999999" stroke="#000" stroke-width="1.2"/>
<text transform="translate(1008.5 597.5) rotate(-90)" font-family="'Liberation Serif',serif" font-size="12" text-anchor="middle" textLength="48" lengthAdjust="spacingAndGlyphs">37°15'0"N</text>
<text x="668.3" y="98.3" font-family="'Liberation Serif',serif" font-size="18.8" text-anchor="start" font-weight="bold" stroke="#000" stroke-width="0.25" textLength="110.6" lengthAdjust="spacingAndGlyphs">Taiyuan-Yuci</text>
<text x="794.5" y="98.3" font-family="'Liberation Serif',serif" font-size="18.8" text-anchor="start" font-weight="bold" stroke="#000" stroke-width="0.25" textLength="35" lengthAdjust="spacingAndGlyphs">LST</text>
<text x="841.2" y="98.3" font-family="'Liberation Serif',serif" font-size="18.8" text-anchor="start" font-weight="bold" stroke="#000" stroke-width="0.25" textLength="35.8" lengthAdjust="spacingAndGlyphs">map</text>
<text x="706.6" y="120.5" font-family="'Liberation Serif',serif" font-size="18.8" text-anchor="start" font-weight="bold" stroke="#000" stroke-width="0.25" textLength="39.8" lengthAdjust="spacingAndGlyphs">June</text>
<text x="752.5" y="120.5" font-family="'Liberation Serif',serif" font-size="18.8" text-anchor="start" font-weight="bold" stroke="#000" stroke-width="0.25" textLength="34.7" lengthAdjust="spacingAndGlyphs">30th</text>
<text x="795.3" y="120.5" font-family="'Liberation Serif',serif" font-size="18.8" text-anchor="start" font-weight="bold" stroke="#000" stroke-width="0.25">,</text>
<text x="804.3" y="120.5" font-family="'Liberation Serif',serif" font-size="18.8" text-anchor="start" font-weight="bold" stroke="#000" stroke-width="0.25" textLength="37.3" lengthAdjust="spacingAndGlyphs">2014</text>
<text x="584.1" y="511.0" font-family="'Liberation Serif',serif" font-size="13.2" text-anchor="start" font-weight="bold" stroke="#000" stroke-width="0.25" textLength="42.8" lengthAdjust="spacingAndGlyphs">LST(K)</text>
<rect x="584.1" y="521.20" width="22.6" height="11.4" fill="#002673" stroke="#6e6e6e" stroke-width="0.8"/>
<text x="622.7" y="531.30" font-family="'Liberation Serif',serif" font-size="12" text-anchor="start" font-weight="bold" stroke="#000" stroke-width="0.25">&lt;</text>
<text x="635" y="531.30" font-family="'Liberation Serif',serif" font-size="12.2" text-anchor="start" font-weight="bold" stroke="#000" stroke-width="0.25" textLength="30.8" lengthAdjust="spacingAndGlyphs">300.00</text>
<rect x="584.1" y="538.08" width="22.6" height="11.4" fill="#0070FF" stroke="#6e6e6e" stroke-width="0.8"/>
<text x="610.9" y="548.18" font-family="'Liberation Serif',serif" font-size="12.2" text-anchor="start" font-weight="bold" stroke="#000" stroke-width="0.25" textLength="72" lengthAdjust="spacingAndGlyphs">300.01 - 303.00</text>
<rect x="584.1" y="554.96" width="22.6" height="11.4" fill="#00FFC5" stroke="#6e6e6e" stroke-width="0.8"/>
<text x="610.9" y="565.06" font-family="'Liberation Serif',serif" font-size="12.2" text-anchor="start" font-weight="bold" stroke="#000" stroke-width="0.25" textLength="72" lengthAdjust="spacingAndGlyphs">303.01 - 305.00</text>
<rect x="584.1" y="571.84" width="22.6" height="11.4" fill="#0AE10A" stroke="#6e6e6e" stroke-width="0.8"/>
<text x="610.9" y="581.94" font-family="'Liberation Serif',serif" font-size="12.2" text-anchor="start" font-weight="bold" stroke="#000" stroke-width="0.25" textLength="72" lengthAdjust="spacingAndGlyphs">305.01 - 307.00</text>
<rect x="584.1" y="588.72" width="22.6" height="11.4" fill="#FFAA00" stroke="#6e6e6e" stroke-width="0.8"/>
<text x="610.9" y="598.82" font-family="'Liberation Serif',serif" font-size="12.2" text-anchor="start" font-weight="bold" stroke="#000" stroke-width="0.25" textLength="72" lengthAdjust="spacingAndGlyphs">307.01 - 308.00</text>
<rect x="584.1" y="605.60" width="22.6" height="11.4" fill="#FF5500" stroke="#6e6e6e" stroke-width="0.8"/>
<text x="610.9" y="615.70" font-family="'Liberation Serif',serif" font-size="12.2" text-anchor="start" font-weight="bold" stroke="#000" stroke-width="0.25" textLength="72" lengthAdjust="spacingAndGlyphs">308.01 - 309.00</text>
<rect x="584.1" y="622.48" width="22.6" height="11.4" fill="#FF0000" stroke="#6e6e6e" stroke-width="0.8"/>
<text x="610.9" y="632.58" font-family="'Liberation Serif',serif" font-size="12.2" text-anchor="start" font-weight="bold" stroke="#000" stroke-width="0.25" textLength="72" lengthAdjust="spacingAndGlyphs">309.01 - 310.00</text>
<rect x="584.1" y="639.36" width="22.6" height="11.4" fill="#780000" stroke="#6e6e6e" stroke-width="0.8"/>
<text x="622.7" y="649.46" font-family="'Liberation Serif',serif" font-size="12" text-anchor="start" font-weight="bold" stroke="#000" stroke-width="0.25">&gt;</text>
<text x="631.8" y="649.46" font-family="'Liberation Serif',serif" font-size="12.2" text-anchor="start" font-weight="bold" stroke="#000" stroke-width="0.25" textLength="31" lengthAdjust="spacingAndGlyphs">310.00</text>
<rect x="754.5" y="637.1" width="188.5" height="10.6" fill="#fff" stroke="#000" stroke-width="0.8"/>
<rect x="754.50" y="637.10" width="11.78" height="5.3" fill="#000"/>
<rect x="766.28" y="642.40" width="11.78" height="5.3" fill="#000"/>
<rect x="778.06" y="637.10" width="11.78" height="5.3" fill="#000"/>
<rect x="789.84" y="642.40" width="11.78" height="5.3" fill="#000"/>
<rect x="801.62" y="637.10" width="47.12" height="5.3" fill="#000"/>
<rect x="848.75" y="642.40" width="47.12" height="5.3" fill="#000"/>
<rect x="895.88" y="637.10" width="47.12" height="5.3" fill="#000"/>
<text x="754.8" y="631.8" font-family="'Liberation Sans',sans-serif" font-size="9.2" text-anchor="middle">0</text>
<text x="778.4" y="631.8" font-family="'Liberation Sans',sans-serif" font-size="9.2" text-anchor="middle">5</text>
<text x="801.9" y="631.8" font-family="'Liberation Sans',sans-serif" font-size="9.2" text-anchor="middle">10</text>
<text x="849.0" y="631.8" font-family="'Liberation Sans',sans-serif" font-size="9.2" text-anchor="middle">20</text>
<text x="896.2" y="631.8" font-family="'Liberation Sans',sans-serif" font-size="9.2" text-anchor="middle">30</text>
<text x="943.3" y="631.8" font-family="'Liberation Sans',sans-serif" font-size="9.2" text-anchor="middle">40</text>
<text x="946.5" y="647.0" font-family="'Liberation Sans',sans-serif" font-size="11.2" text-anchor="start">Km</text>
<text x="777.2" y="723.9" font-family="'Liberation Serif',serif" font-size="26.5" text-anchor="middle">(<tspan font-weight="bold">B</tspan>)</text>
</svg>
</body></html>
